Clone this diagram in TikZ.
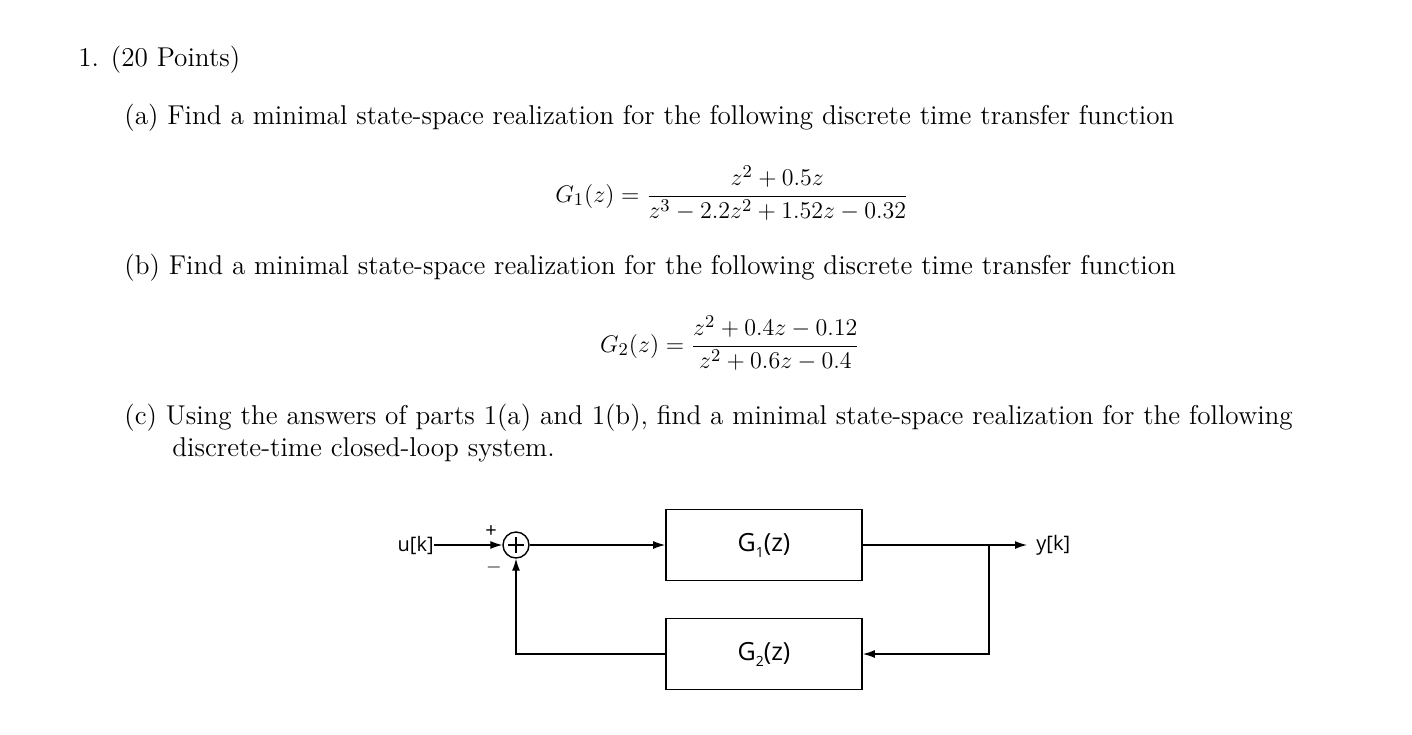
\documentclass[tikz,border=0pt]{standalone}
\usepackage{amsmath}
\usepackage{fontspec}
\newfontfamily\diafont{Open Sans}
\usetikzlibrary{arrows.meta}
\newcommand{\lowsub}[1]{\raisebox{-0.45ex}{\scriptsize #1}}
\begin{document}
\begin{tikzpicture}[x=0.5pt,y=-0.5pt,
  txt/.style={anchor=west,inner sep=0,font=\fontsize{13.6}{17}\selectfont},
  eq/.style={inner sep=0,font=\fontsize{12.8}{16}\selectfont},
  blk/.style={draw,line width=0.9pt,minimum width=98pt,minimum height=35.5pt,inner sep=0,font=\diafont\fontsize{12.5}{14}\selectfont},
  wire/.style={line width=0.6pt},
  arr/.style={wire,-{Latex[length=6pt,width=4pt]}},
  lab/.style={inner sep=0,font=\diafont\fontsize{10}{12}\selectfont}]
\useasboundingbox (0,0) rectangle (1412,734);
\node[txt] (t1) at (78,60) {1. (20 Points)};
\node[txt] (ta) at (124,118) {(a) Find a minimal state-space realization for the following discrete time transfer function};
\node[eq] (e1) at (732,193) {$\displaystyle G_1(z)=\frac{z^2+0.5z}{z^3-2.2z^2+1.52z-0.32}$};
\node[txt] (tb) at (124,268) {(b) Find a minimal state-space realization for the following discrete time transfer function};
\node[eq] (e2) at (730,343) {$\displaystyle G_2(z)=\frac{z^2+0.4z-0.12}{z^2+0.6z-0.4}$};
\node[txt] (tc) at (124,418) {(c) Using the answers of parts 1(a) and 1(b), find a minimal state-space realization for the following};
\node[txt] (tc2) at (172,450) {discrete-time closed-loop system.};
% diagram
\node[draw,circle,line width=0.7pt,minimum size=13pt,inner sep=0] (s) at (516,545) {};
\draw[wire,line width=0.8pt] (516,537)--(516,553) (508,545)--(524,545);
\node[blk] (g1) at (764,545) {G\lowsub{1}(z)};
\node[blk] (g2) at (764,654) {G\lowsub{2}(z)};
\node[lab,anchor=east] (u) at (434,545) {u[k]};
\node[lab,anchor=west] (y) at (1036,545) {y[k]};
\node[lab] (p) at (491,532) {+};
\node[lab] (m) at (494,567) {$-$};
\coordinate (br) at (989,545);
\coordinate (ye) at (1027,545);
\draw[arr] (u)--(s);
\draw[arr] (s)--(g1);
\draw[arr] (g1)--(ye);
\draw[arr] (br)|-(g2);
\draw[arr] (g2.west)-|(s.south);
\end{tikzpicture}
\end{document}
